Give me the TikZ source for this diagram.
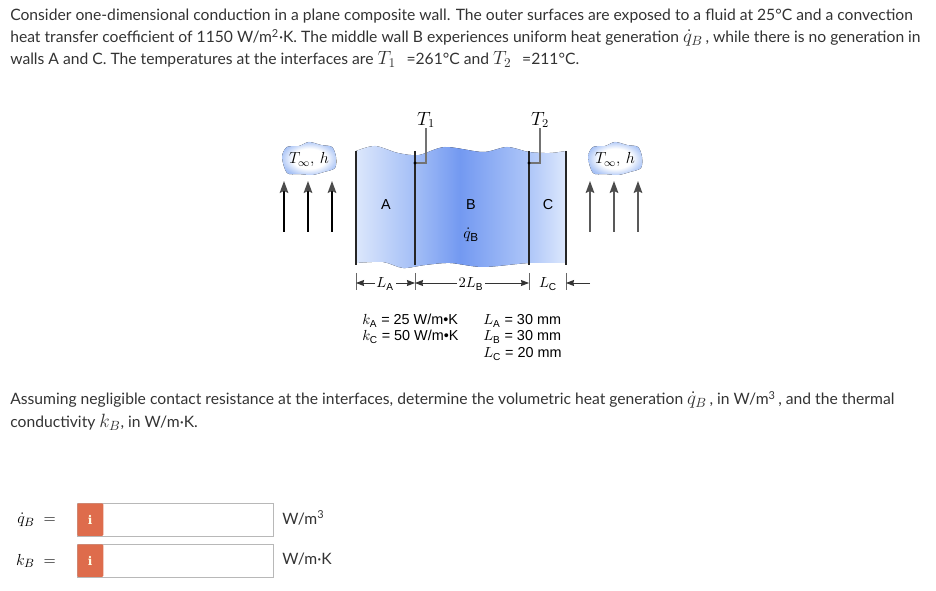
\documentclass[tikz,border=0pt]{standalone}
\usepackage{amsmath}
\usepackage{fontspec}
\setmainfont{Lato}
\newfontfamily\figfont{Liberation Sans}
\newfontfamily\slabfont{DejaVu Serif}
\usetikzlibrary{arrows.meta}
\definecolor{inkgray}{HTML}{333333}
\definecolor{wallA}{HTML}{DCE7FC}
\definecolor{wallAB}{HTML}{A3BEF6}
\definecolor{wallB}{HTML}{7399F1}
\definecolor{wallBC}{HTML}{AEC6F8}
\definecolor{wallC}{HTML}{DDE8FD}
\definecolor{cloudblue}{HTML}{A6C1F5}
\definecolor{infobox}{HTML}{DE6C4C}
\pgfdeclareradialshading{skyglow}{\pgfpoint{0bp}{0bp}}{color(0bp)=(white); color(15bp)=(white); color(27bp)=(cloudblue); color(50bp)=(cloudblue)}
\newcommand{\mathtext}[1]{{\fontsize{14.5}{14}\selectfont$#1$}}
\newcommand{\symtext}[1]{{\fontsize{12.5}{14}\selectfont$#1$}}
\newcommand{\figsub}[1]{\text{\figfont #1}}
\tikzset{
  textline/.style={anchor=base west,inner sep=0pt,text=inkgray,font=\fontsize{11.75}{14}\selectfont},
  figlabel/.style={inner sep=0pt,text=black,font=\figfont\fontsize{10.8}{12}\selectfont},
  wallline/.style={draw=black!85,line width=1.3pt},
  flowarrow/.style={line width=1.2pt,-{Stealth[length=9pt,width=6.5pt,inset=1.5pt,color=black!70]}},
  dimtick/.style={draw=black!60,line width=0.6pt},
  dimarrow/.style={draw=black!80,line width=0.7pt,-{Stealth[length=6pt,width=4.5pt,inset=0.5pt]}},
  leader/.style={draw=black!55,line width=0.9pt},
  sky/.style={inner sep=0pt,text=black,font=\fontsize{12}{12}\selectfont},
  answerbox/.style={draw=black!28,fill=white,line width=0.6pt,minimum width=147pt,minimum height=24.5pt,inner sep=0pt,anchor=north west},
  infotab/.style={fill=infobox,rounded corners=0.8pt,minimum width=19.5pt,minimum height=24.5pt,inner sep=0pt,anchor=north west,text=white!90!yellow,font=\slabfont\fontsize{9}{10}\bfseries\selectfont},
}
\begin{document}
\begin{tikzpicture}[x=0.75pt,y=-0.75pt]
  \useasboundingbox (0,0) rectangle (936,591);

  % problem text
  \node[textline] (line1) at (10,21) {Consider one-dimensional conduction in a plane composite wall. The outer surfaces are exposed to a fluid at 25°C and a convection};
  \node[textline] (line2) at (10,43) {heat transfer coefficient of 1150 W/m\textsuperscript{2}·K. The middle wall B experiences uniform heat generation \mathtext{\dot{q}_B}\hspace{2pt}, while there is no generation in};
  \node[textline] (line3) at (10,65) {walls A and C. The temperatures at the interfaces are \mathtext{T_1}\hspace{5pt} =261°C and \mathtext{T_2}\hspace{5pt} =211°C.};
  \node[textline] (line4) at (10,405) {Assuming negligible contact resistance at the interfaces, determine the volumetric heat generation \mathtext{\dot{q}_B}\hspace{2pt}, in W/m\textsuperscript{3}\hspace{2pt}, and the thermal};
  \node[textline] (line5) at (10,428) {conductivity \mathtext{k_B}, in W/m·K.};

  % wall
  \begin{scope}
    \clip plot[smooth] coordinates {(356,151) (375,146) (398,153) (419,155) (445,147) (483,152) (507,147) (529,152) (550,153) (566,151)}
      -- plot[smooth] coordinates {(566,263) (529,263) (483,267) (450,263) (425,265) (403,268) (383,262) (356,263)} -- cycle;
    \fill[left color=wallA,right color=wallAB] (356,140) rectangle (415,275);
    \fill[left color=wallAB,right color=wallB] (415,140) rectangle (460,275);
    \fill[left color=wallB,right color=wallBC] (460,140) rectangle (529,275);
    \fill[left color=wallBC,right color=wallC] (529,140) rectangle (566,275);
  \end{scope}

  \def \Walls {
    a/356,
    b/415,
    c/529,
    d/566}
  \foreach \id / \x in \Walls {
    \coordinate (top\id) at (\x,151);
    \coordinate (bot\id) at (\x,265);
    \coordinate (up\id) at (\x,273);
    \coordinate (low\id) at (\x,290);
    \path[dimtick] (up\id) -- (low\id);
  }
  \path[wallline] (topa) -- (bota);
  \path[wallline,line width=0.9pt] (topb) -- (botb);
  \path[wallline] (topc) -- (botc);
  \path[wallline] (topd) -- (botd);

  \node[figlabel] (labelA) at (386,205) {A};
  \node[figlabel] (labelB) at (471,205) {B};
  \node[figlabel] (labelC) at (548,205) {C};
  \node[figlabel] (labelq) at (471,235) {\symtext{\dot{q}_{\figsub{B}}}};

  % thermocouples
  \node[figlabel,font=\fontsize{13.5}{14}\selectfont] (T1) at (426,120) {$T_1$};
  \node[figlabel,font=\fontsize{13.5}{14}\selectfont] (T2) at (540,120) {$T_2$};
  \coordinate (bend1) at (426,163);
  \coordinate (bend2) at (540,163);
  \coordinate (tip1) at (415,163);
  \coordinate (tip2) at (529,163);
  \path[leader] (T1) -- (bend1) -- (tip1);
  \path[leader] (T2) -- (bend2) -- (tip2);
  \fill[black] (tip1) circle (1.2pt);
  \fill[black] (tip2) circle (1.2pt);

  % fluid on both sides
  \foreach \x in {309,615} {
    \fill[shading=skyglow,shift={(\x,160)}] plot[smooth cycle] coordinates
      {(-27,-3) (-22,-13) (-10,-14) (0,-18) (12,-15) (23,-13) (27,-3) (26,8) (15,12) (3,15) (-10,14) (-22,13)};
    \node[sky] (sky\x) at (\x,160) {$T_\infty,\,h$};
  }
  \def \Arrows {
    284/black,
    308/black,
    332/black,
    590/black!65,
    614/black!65,
    638/black!65}
  \foreach \x / \col in \Arrows {
    \coordinate (from\x) at (\x,232);
    \coordinate (to\x) at (\x,181);
    \draw[flowarrow,\col] (from\x) -- (to\x);
  }

  % dimensions
  \node[figlabel] (dimA) at (385,284) {$L_{\figsub{A}}$};
  \node[figlabel] (dimB) at (471,284) {$2L_{\figsub{B}}$};
  \node[figlabel] (dimC) at (548,284) {$L_{\figsub{C}}$};
  \coordinate (far) at (590,283);
  \coordinate (enda) at (356,283);
  \coordinate (endb) at (415,283);
  \coordinate (endc) at (529,283);
  \coordinate (endd) at (566,283);
  \draw[dimarrow] (dimA) ++(-10,-1) -- (enda);
  \draw[dimarrow] (dimA) ++(11,-1) -- (endb);
  \draw[dimarrow] (dimB) ++(-14,-1) -- (endb);
  \draw[dimarrow] (dimB) ++(14,-1) -- (endc);
  \draw[dimarrow] (far) -- (endd);

  % properties
  \node[figlabel,anchor=base west] (kA) at (362,325) {$k_{\figsub{A}}$ = 25 W/m•K};
  \node[figlabel,anchor=base west] (kC) at (362,341) {$k_{\figsub{C}}$ = 50 W/m•K};
  \node[figlabel,anchor=base west] (LA) at (483,325) {$L_{\figsub{A}}$ = 30 mm};
  \node[figlabel,anchor=base west] (LB) at (483,341) {$L_{\figsub{B}}$ = 30 mm};
  \node[figlabel,anchor=base west] (LC) at (483,358) {$L_{\figsub{C}}$ = 20 mm};

  % answers
  \def \Answers {
    1/503/{\symtext{\dot{q}_B\ =}}/{W/m\textsuperscript{3}},
    2/544/{\symtext{k_B\ =}}/{W/m·K}}
  \foreach \id / \y / \sym / \unit in \Answers {
    \node[answerbox] (box\id) at (77,\y) {};
    \node[infotab] (info\id) at (77,\y) {i};
    \node[textline,text=black,anchor=east] (sym\id) at (56,\y+17) {\sym};
    \node[textline,anchor=west] (unit\id) at (282,\y+15) {\unit};
  }
\end{tikzpicture}
\end{document}
